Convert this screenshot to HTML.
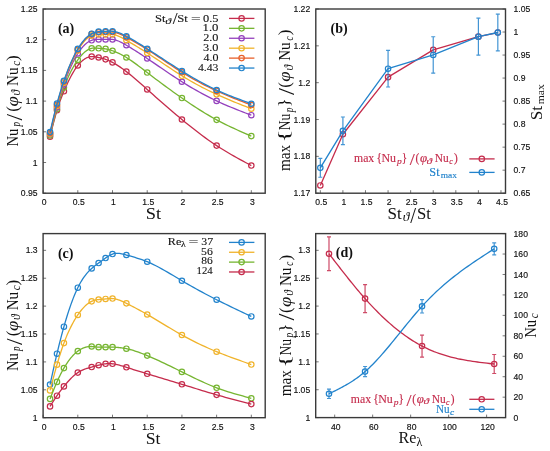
<!DOCTYPE html>
<html><head><meta charset="utf-8"><title>Figure</title><style>
html,body{margin:0;padding:0;background:#fff;}
svg{display:block;}
.box{fill:none;stroke:#3a3a3a;stroke-width:1.4;}
.tk{stroke:#555;stroke-width:0.8;}
.tl{font-family:"Liberation Sans", Arial, sans-serif;font-size:8.6px;fill:#111;stroke:#111;stroke-width:0.15;}
.cv{fill:none;stroke-width:1.3;stroke-linejoin:round;}
.mk{fill:none;stroke-width:1.2;}
.eb{fill:none;stroke-width:1.2;stroke-opacity:0.85;}
.lg{font-family:"Liberation Serif", "DejaVu Serif", serif;font-size:11px;fill:#222;}
.sub{font-size:7.5px;font-style:italic;}
.asub{font-size:11px;font-style:italic;}
.it{font-style:italic;}
.al{font-family:"Liberation Serif", "DejaVu Serif", serif;font-size:16.5px;fill:#222;}
.gt{font-family:"Liberation Serif", "DejaVu Serif", serif;}
.gt text{stroke:inherit;}
.pl{font-family:"Liberation Serif", "DejaVu Serif", serif;font-size:14px;font-weight:bold;fill:#111;}
</style></head>
<body><svg width="550" height="451" viewBox="0 0 550 451">
<rect width="550" height="451" fill="#fff"/>
<line x1="43.10" y1="193.20" x2="43.10" y2="190.20" class="tk"/>
<text x="44.10" y="205.40" class="tl" text-anchor="middle">0</text>
<line x1="77.80" y1="193.20" x2="77.80" y2="190.20" class="tk"/>
<text x="78.80" y="205.40" class="tl" text-anchor="middle">0.5</text>
<line x1="112.51" y1="193.20" x2="112.51" y2="190.20" class="tk"/>
<text x="113.51" y="205.40" class="tl" text-anchor="middle">1</text>
<line x1="147.21" y1="193.20" x2="147.21" y2="190.20" class="tk"/>
<text x="148.21" y="205.40" class="tl" text-anchor="middle">1.5</text>
<line x1="181.91" y1="193.20" x2="181.91" y2="190.20" class="tk"/>
<text x="182.91" y="205.40" class="tl" text-anchor="middle">2</text>
<line x1="216.62" y1="193.20" x2="216.62" y2="190.20" class="tk"/>
<text x="217.62" y="205.40" class="tl" text-anchor="middle">2.5</text>
<line x1="251.32" y1="193.20" x2="251.32" y2="190.20" class="tk"/>
<text x="252.32" y="205.40" class="tl" text-anchor="middle">3</text>
<line x1="43.10" y1="193.20" x2="46.10" y2="193.20" class="tk"/>
<text x="37.60" y="196.25" class="tl" text-anchor="end">0.95</text>
<line x1="43.10" y1="162.50" x2="46.10" y2="162.50" class="tk"/>
<text x="37.60" y="165.55" class="tl" text-anchor="end">1</text>
<line x1="43.10" y1="131.80" x2="46.10" y2="131.80" class="tk"/>
<text x="37.60" y="134.85" class="tl" text-anchor="end">1.05</text>
<line x1="43.10" y1="101.10" x2="46.10" y2="101.10" class="tk"/>
<text x="37.60" y="104.15" class="tl" text-anchor="end">1.1</text>
<line x1="43.10" y1="70.40" x2="46.10" y2="70.40" class="tk"/>
<text x="37.60" y="73.45" class="tl" text-anchor="end">1.15</text>
<line x1="43.10" y1="39.70" x2="46.10" y2="39.70" class="tk"/>
<text x="37.60" y="42.75" class="tl" text-anchor="end">1.2</text>
<line x1="43.10" y1="9.00" x2="46.10" y2="9.00" class="tk"/>
<text x="37.60" y="12.05" class="tl" text-anchor="end">1.25</text>
<rect x="43.10" y="9.00" width="222.10" height="184.20" class="box"/>
<path d="M50.04,136.71 L50.62,134.37 L51.20,132.03 L51.78,129.71 L52.35,127.40 L52.93,125.12 L53.51,122.86 L54.09,120.65 L54.67,118.47 L55.25,116.35 L55.82,114.27 L56.40,112.26 L56.98,110.31 L57.56,108.43 L58.14,106.62 L58.72,104.87 L59.29,103.19 L59.87,101.55 L60.45,99.97 L61.03,98.43 L61.61,96.93 L62.19,95.47 L62.77,94.05 L63.34,92.65 L63.92,91.28 L65.08,88.59 L66.24,85.99 L67.39,83.47 L68.55,81.05 L69.71,78.73 L70.86,76.50 L72.02,74.38 L73.18,72.37 L74.33,70.47 L75.49,68.69 L76.65,67.02 L77.80,65.49 L78.96,64.08 L80.12,62.80 L81.27,61.65 L82.43,60.62 L83.59,59.71 L84.74,58.92 L85.90,58.25 L87.06,57.69 L88.21,57.25 L89.37,56.92 L90.53,56.70 L91.68,56.58 L92.26,56.57 L92.84,56.58 L93.42,56.61 L94.00,56.65 L94.58,56.72 L95.15,56.80 L95.73,56.90 L96.31,57.01 L96.89,57.12 L97.47,57.25 L98.05,57.38 L98.62,57.51 L99.20,57.64 L99.78,57.77 L100.36,57.90 L100.94,58.04 L101.52,58.18 L102.10,58.33 L102.67,58.48 L103.25,58.64 L103.83,58.80 L104.41,58.97 L104.99,59.16 L105.57,59.35 L106.14,59.55 L106.72,59.76 L107.30,59.99 L107.88,60.22 L108.46,60.47 L109.04,60.72 L109.61,60.98 L110.19,61.25 L110.77,61.53 L111.35,61.82 L111.93,62.11 L112.51,62.42 L113.66,63.05 L114.82,63.71 L115.98,64.39 L117.13,65.10 L118.29,65.84 L119.45,66.61 L120.60,67.39 L121.76,68.20 L122.92,69.03 L124.07,69.88 L125.23,70.74 L126.39,71.63 L128.12,72.99 L129.86,74.38 L131.59,75.80 L133.33,77.25 L135.06,78.72 L136.80,80.22 L138.53,81.73 L140.27,83.25 L142.00,84.79 L143.74,86.34 L145.47,87.88 L147.21,89.43 L150.10,92.01 L152.99,94.58 L155.89,97.15 L158.78,99.70 L161.67,102.24 L164.56,104.76 L167.45,107.27 L170.34,109.76 L173.24,112.23 L176.13,114.69 L179.02,117.11 L181.91,119.52 L184.80,121.90 L187.70,124.25 L190.59,126.57 L193.48,128.86 L196.37,131.11 L199.26,133.32 L202.16,135.49 L205.05,137.61 L207.94,139.69 L210.83,141.72 L213.72,143.69 L216.62,145.61 L219.51,147.48 L222.40,149.29 L225.29,151.06 L228.18,152.78 L231.08,154.46 L233.97,156.11 L236.86,157.73 L239.75,159.33 L242.64,160.90 L245.53,162.47 L248.43,164.02 L251.32,165.57" stroke="#C52C4C" class="cv"/>
<circle cx="50.04" cy="136.71" r="2.7" stroke="#C52C4C" class="mk"/>
<circle cx="56.98" cy="110.31" r="2.7" stroke="#C52C4C" class="mk"/>
<circle cx="63.92" cy="91.28" r="2.7" stroke="#C52C4C" class="mk"/>
<circle cx="77.80" cy="65.49" r="2.7" stroke="#C52C4C" class="mk"/>
<circle cx="91.68" cy="56.58" r="2.7" stroke="#C52C4C" class="mk"/>
<circle cx="98.62" cy="57.51" r="2.7" stroke="#C52C4C" class="mk"/>
<circle cx="105.57" cy="59.35" r="2.7" stroke="#C52C4C" class="mk"/>
<circle cx="112.51" cy="62.42" r="2.7" stroke="#C52C4C" class="mk"/>
<circle cx="126.39" cy="71.63" r="2.7" stroke="#C52C4C" class="mk"/>
<circle cx="147.21" cy="89.43" r="2.7" stroke="#C52C4C" class="mk"/>
<circle cx="181.91" cy="119.52" r="2.7" stroke="#C52C4C" class="mk"/>
<circle cx="216.62" cy="145.61" r="2.7" stroke="#C52C4C" class="mk"/>
<circle cx="251.32" cy="165.57" r="2.7" stroke="#C52C4C" class="mk"/>
<path d="M50.04,135.48 L50.62,133.20 L51.20,130.92 L51.78,128.65 L52.35,126.39 L52.93,124.14 L53.51,121.91 L54.09,119.70 L54.67,117.51 L55.25,115.36 L55.82,113.23 L56.40,111.14 L56.98,109.08 L57.56,107.07 L58.14,105.10 L58.72,103.17 L59.29,101.28 L59.87,99.43 L60.45,97.62 L61.03,95.85 L61.61,94.12 L62.19,92.43 L62.77,90.78 L63.34,89.16 L63.92,87.59 L65.08,84.56 L66.24,81.68 L67.39,78.94 L68.55,76.34 L69.71,73.88 L70.86,71.54 L72.02,69.33 L73.18,67.24 L74.33,65.26 L75.49,63.39 L76.65,61.63 L77.80,59.96 L78.96,58.39 L80.12,56.92 L81.27,55.55 L82.43,54.28 L83.59,53.12 L84.74,52.07 L85.90,51.14 L87.06,50.32 L88.21,49.63 L89.37,49.05 L90.53,48.61 L91.68,48.30 L92.26,48.19 L92.84,48.11 L93.42,48.06 L94.00,48.03 L94.58,48.03 L95.15,48.04 L95.73,48.07 L96.31,48.10 L96.89,48.15 L97.47,48.20 L98.05,48.25 L98.62,48.30 L99.20,48.34 L99.78,48.38 L100.36,48.42 L100.94,48.46 L101.52,48.50 L102.10,48.54 L102.67,48.58 L103.25,48.63 L103.83,48.69 L104.41,48.75 L104.99,48.83 L105.57,48.91 L106.14,49.01 L106.72,49.12 L107.30,49.24 L107.88,49.37 L108.46,49.51 L109.04,49.66 L109.61,49.82 L110.19,49.99 L110.77,50.17 L111.35,50.36 L111.93,50.55 L112.51,50.75 L113.66,51.18 L114.82,51.63 L115.98,52.10 L117.13,52.60 L118.29,53.13 L119.45,53.68 L120.60,54.26 L121.76,54.86 L122.92,55.49 L124.07,56.14 L125.23,56.81 L126.39,57.51 L128.12,58.59 L129.86,59.72 L131.59,60.90 L133.33,62.10 L135.06,63.35 L136.80,64.62 L138.53,65.91 L140.27,67.22 L142.00,68.54 L143.74,69.88 L145.47,71.21 L147.21,72.55 L150.10,74.77 L152.99,76.97 L155.89,79.15 L158.78,81.33 L161.67,83.48 L164.56,85.61 L167.45,87.73 L170.34,89.83 L173.24,91.91 L176.13,93.97 L179.02,96.01 L181.91,98.03 L184.80,100.03 L187.70,102.00 L190.59,103.94 L193.48,105.86 L196.37,107.74 L199.26,109.59 L202.16,111.41 L205.05,113.18 L207.94,114.91 L210.83,116.60 L213.72,118.24 L216.62,119.83 L219.51,121.37 L222.40,122.86 L225.29,124.31 L228.18,125.71 L231.08,127.09 L233.97,128.43 L236.86,129.75 L239.75,131.04 L242.64,132.32 L245.53,133.59 L248.43,134.85 L251.32,136.10" stroke="#76B531" class="cv"/>
<circle cx="50.04" cy="135.48" r="2.7" stroke="#76B531" class="mk"/>
<circle cx="56.98" cy="109.08" r="2.7" stroke="#76B531" class="mk"/>
<circle cx="63.92" cy="87.59" r="2.7" stroke="#76B531" class="mk"/>
<circle cx="77.80" cy="59.96" r="2.7" stroke="#76B531" class="mk"/>
<circle cx="91.68" cy="48.30" r="2.7" stroke="#76B531" class="mk"/>
<circle cx="98.62" cy="48.30" r="2.7" stroke="#76B531" class="mk"/>
<circle cx="105.57" cy="48.91" r="2.7" stroke="#76B531" class="mk"/>
<circle cx="112.51" cy="50.75" r="2.7" stroke="#76B531" class="mk"/>
<circle cx="126.39" cy="57.51" r="2.7" stroke="#76B531" class="mk"/>
<circle cx="147.21" cy="72.55" r="2.7" stroke="#76B531" class="mk"/>
<circle cx="181.91" cy="98.03" r="2.7" stroke="#76B531" class="mk"/>
<circle cx="216.62" cy="119.83" r="2.7" stroke="#76B531" class="mk"/>
<circle cx="251.32" cy="136.10" r="2.7" stroke="#76B531" class="mk"/>
<path d="M50.04,134.26 L50.62,131.93 L51.20,129.61 L51.78,127.30 L52.35,124.99 L52.93,122.70 L53.51,120.42 L54.09,118.16 L54.67,115.92 L55.25,113.71 L55.82,111.52 L56.40,109.36 L56.98,107.24 L57.56,105.15 L58.14,103.10 L58.72,101.08 L59.29,99.10 L59.87,97.16 L60.45,95.25 L61.03,93.38 L61.61,91.54 L62.19,89.73 L62.77,87.96 L63.34,86.22 L63.92,84.52 L65.08,81.22 L66.24,78.05 L67.39,75.01 L68.55,72.11 L69.71,69.34 L70.86,66.69 L72.02,64.18 L73.18,61.79 L74.33,59.54 L75.49,57.40 L76.65,55.40 L77.80,53.52 L78.96,51.76 L80.12,50.12 L81.27,48.60 L82.43,47.21 L83.59,45.93 L84.74,44.78 L85.90,43.74 L87.06,42.82 L88.21,42.02 L89.37,41.34 L90.53,40.77 L91.68,40.31 L92.26,40.13 L92.84,39.97 L93.42,39.84 L94.00,39.73 L94.58,39.63 L95.15,39.56 L95.73,39.50 L96.31,39.46 L96.89,39.43 L97.47,39.41 L98.05,39.40 L98.62,39.39 L99.20,39.39 L99.78,39.39 L100.36,39.40 L100.94,39.40 L101.52,39.41 L102.10,39.41 L102.67,39.42 L103.25,39.42 L103.83,39.42 L104.41,39.42 L104.99,39.41 L105.57,39.39 L106.14,39.37 L106.72,39.35 L107.30,39.33 L107.88,39.30 L108.46,39.28 L109.04,39.26 L109.61,39.25 L110.19,39.25 L110.77,39.27 L111.35,39.29 L111.93,39.33 L112.51,39.39 L113.66,39.57 L114.82,39.83 L115.98,40.16 L117.13,40.55 L118.29,41.00 L119.45,41.50 L120.60,42.04 L121.76,42.63 L122.92,43.24 L124.07,43.89 L125.23,44.55 L126.39,45.23 L128.12,46.26 L129.86,47.31 L131.59,48.37 L133.33,49.45 L135.06,50.54 L136.80,51.64 L138.53,52.76 L140.27,53.89 L142.00,55.03 L143.74,56.17 L145.47,57.33 L147.21,58.49 L150.10,60.44 L152.99,62.40 L155.89,64.37 L158.78,66.35 L161.67,68.33 L164.56,70.30 L167.45,72.26 L170.34,74.20 L173.24,76.13 L176.13,78.04 L179.02,79.91 L181.91,81.76 L184.80,83.57 L187.70,85.34 L190.59,87.07 L193.48,88.77 L196.37,90.42 L199.26,92.04 L202.16,93.62 L205.05,95.16 L207.94,96.66 L210.83,98.12 L213.72,99.54 L216.62,100.92 L219.51,102.25 L222.40,103.55 L225.29,104.82 L228.18,106.05 L231.08,107.26 L233.97,108.44 L236.86,109.60 L239.75,110.75 L242.64,111.88 L245.53,113.00 L248.43,114.11 L251.32,115.22" stroke="#9440BD" class="cv"/>
<circle cx="50.04" cy="134.26" r="2.7" stroke="#9440BD" class="mk"/>
<circle cx="56.98" cy="107.24" r="2.7" stroke="#9440BD" class="mk"/>
<circle cx="63.92" cy="84.52" r="2.7" stroke="#9440BD" class="mk"/>
<circle cx="77.80" cy="53.52" r="2.7" stroke="#9440BD" class="mk"/>
<circle cx="91.68" cy="40.31" r="2.7" stroke="#9440BD" class="mk"/>
<circle cx="98.62" cy="39.39" r="2.7" stroke="#9440BD" class="mk"/>
<circle cx="105.57" cy="39.39" r="2.7" stroke="#9440BD" class="mk"/>
<circle cx="112.51" cy="39.39" r="2.7" stroke="#9440BD" class="mk"/>
<circle cx="126.39" cy="45.23" r="2.7" stroke="#9440BD" class="mk"/>
<circle cx="147.21" cy="58.49" r="2.7" stroke="#9440BD" class="mk"/>
<circle cx="181.91" cy="81.76" r="2.7" stroke="#9440BD" class="mk"/>
<circle cx="216.62" cy="100.92" r="2.7" stroke="#9440BD" class="mk"/>
<circle cx="251.32" cy="115.22" r="2.7" stroke="#9440BD" class="mk"/>
<path d="M50.04,133.64 L50.62,131.27 L51.20,128.90 L51.78,126.53 L52.35,124.17 L52.93,121.83 L53.51,119.50 L54.09,117.19 L54.67,114.90 L55.25,112.63 L55.82,110.40 L56.40,108.19 L56.98,106.01 L57.56,103.87 L58.14,101.77 L58.72,99.70 L59.29,97.67 L59.87,95.67 L60.45,93.71 L61.03,91.79 L61.61,89.90 L62.19,88.04 L62.77,86.22 L63.34,84.43 L63.92,82.68 L65.08,79.28 L66.24,76.01 L67.39,72.88 L68.55,69.87 L69.71,67.00 L70.86,64.26 L72.02,61.64 L73.18,59.15 L74.33,56.78 L75.49,54.53 L76.65,52.40 L77.80,50.38 L78.96,48.49 L80.12,46.71 L81.27,45.05 L82.43,43.51 L83.59,42.09 L84.74,40.79 L85.90,39.61 L87.06,38.55 L88.21,37.62 L89.37,36.82 L90.53,36.14 L91.68,35.59 L92.26,35.36 L92.84,35.16 L93.42,34.99 L94.00,34.85 L94.58,34.72 L95.15,34.62 L95.73,34.54 L96.31,34.48 L96.89,34.43 L97.47,34.40 L98.05,34.37 L98.62,34.36 L99.20,34.35 L99.78,34.35 L100.36,34.35 L100.94,34.35 L101.52,34.36 L102.10,34.36 L102.67,34.37 L103.25,34.37 L103.83,34.38 L104.41,34.38 L104.99,34.37 L105.57,34.36 L106.14,34.34 L106.72,34.32 L107.30,34.29 L107.88,34.27 L108.46,34.24 L109.04,34.23 L109.61,34.22 L110.19,34.21 L110.77,34.23 L111.35,34.25 L111.93,34.30 L112.51,34.36 L113.66,34.55 L114.82,34.81 L115.98,35.16 L117.13,35.56 L118.29,36.03 L119.45,36.54 L120.60,37.10 L121.76,37.70 L122.92,38.33 L124.07,38.98 L125.23,39.64 L126.39,40.31 L128.12,41.33 L129.86,42.34 L131.59,43.36 L133.33,44.39 L135.06,45.42 L136.80,46.46 L138.53,47.51 L140.27,48.57 L142.00,49.63 L143.74,50.71 L145.47,51.80 L147.21,52.90 L150.10,54.77 L152.99,56.67 L155.89,58.59 L158.78,60.53 L161.67,62.48 L164.56,64.43 L167.45,66.38 L170.34,68.31 L173.24,70.23 L176.13,72.12 L179.02,73.98 L181.91,75.80 L184.80,77.58 L187.70,79.30 L190.59,80.99 L193.48,82.63 L196.37,84.23 L199.26,85.78 L202.16,87.30 L205.05,88.78 L207.94,90.23 L210.83,91.63 L213.72,93.01 L216.62,94.35 L219.51,95.65 L222.40,96.93 L225.29,98.19 L228.18,99.42 L231.08,100.63 L233.97,101.82 L236.86,102.99 L239.75,104.15 L242.64,105.30 L245.53,106.44 L248.43,107.58 L251.32,108.71" stroke="#F0B32A" class="cv"/>
<circle cx="50.04" cy="133.64" r="2.7" stroke="#F0B32A" class="mk"/>
<circle cx="56.98" cy="106.01" r="2.7" stroke="#F0B32A" class="mk"/>
<circle cx="63.92" cy="82.68" r="2.7" stroke="#F0B32A" class="mk"/>
<circle cx="77.80" cy="50.38" r="2.7" stroke="#F0B32A" class="mk"/>
<circle cx="91.68" cy="35.59" r="2.7" stroke="#F0B32A" class="mk"/>
<circle cx="98.62" cy="34.36" r="2.7" stroke="#F0B32A" class="mk"/>
<circle cx="105.57" cy="34.36" r="2.7" stroke="#F0B32A" class="mk"/>
<circle cx="112.51" cy="34.36" r="2.7" stroke="#F0B32A" class="mk"/>
<circle cx="126.39" cy="40.31" r="2.7" stroke="#F0B32A" class="mk"/>
<circle cx="147.21" cy="52.90" r="2.7" stroke="#F0B32A" class="mk"/>
<circle cx="181.91" cy="75.80" r="2.7" stroke="#F0B32A" class="mk"/>
<circle cx="216.62" cy="94.35" r="2.7" stroke="#F0B32A" class="mk"/>
<circle cx="251.32" cy="108.71" r="2.7" stroke="#F0B32A" class="mk"/>
<path d="M50.04,133.03 L50.62,130.59 L51.20,128.16 L51.78,125.73 L52.35,123.31 L52.93,120.91 L53.51,118.52 L54.09,116.16 L54.67,113.82 L55.25,111.51 L55.82,109.23 L56.40,106.99 L56.98,104.78 L57.56,102.62 L58.14,100.50 L58.72,98.42 L59.29,96.38 L59.87,94.38 L60.45,92.42 L61.03,90.50 L61.61,88.62 L62.19,86.77 L62.77,84.96 L63.34,83.19 L63.92,81.45 L65.08,78.08 L66.24,74.85 L67.39,71.76 L68.55,68.79 L69.71,65.96 L70.86,63.25 L72.02,60.67 L73.18,58.21 L74.33,55.87 L75.49,53.64 L76.65,51.53 L77.80,49.52 L78.96,47.63 L80.12,45.84 L81.27,44.16 L82.43,42.60 L83.59,41.14 L84.74,39.80 L85.90,38.57 L87.06,37.46 L88.21,36.46 L89.37,35.58 L90.53,34.82 L91.68,34.17 L92.26,33.90 L92.84,33.65 L93.42,33.42 L94.00,33.23 L94.58,33.05 L95.15,32.90 L95.73,32.76 L96.31,32.65 L96.89,32.55 L97.47,32.46 L98.05,32.39 L98.62,32.33 L99.20,32.28 L99.78,32.24 L100.36,32.20 L100.94,32.17 L101.52,32.15 L102.10,32.13 L102.67,32.11 L103.25,32.09 L103.83,32.08 L104.41,32.06 L104.99,32.04 L105.57,32.03 L106.14,32.00 L106.72,31.98 L107.30,31.95 L107.88,31.93 L108.46,31.91 L109.04,31.90 L109.61,31.89 L110.19,31.89 L110.77,31.90 L111.35,31.93 L111.93,31.97 L112.51,32.03 L113.66,32.19 L114.82,32.42 L115.98,32.71 L117.13,33.06 L118.29,33.46 L119.45,33.91 L120.60,34.39 L121.76,34.91 L122.92,35.46 L124.07,36.04 L125.23,36.64 L126.39,37.24 L128.12,38.17 L129.86,39.13 L131.59,40.09 L133.33,41.08 L135.06,42.08 L136.80,43.10 L138.53,44.14 L140.27,45.19 L142.00,46.25 L143.74,47.33 L145.47,48.42 L147.21,49.52 L150.10,51.39 L152.99,53.28 L155.89,55.18 L158.78,57.10 L161.67,59.03 L164.56,60.96 L167.45,62.89 L170.34,64.81 L173.24,66.71 L176.13,68.58 L179.02,70.43 L181.91,72.24 L184.80,74.01 L187.70,75.75 L190.59,77.44 L193.48,79.09 L196.37,80.70 L199.26,82.28 L202.16,83.81 L205.05,85.31 L207.94,86.76 L210.83,88.18 L213.72,89.56 L216.62,90.91 L219.51,92.21 L222.40,93.49 L225.29,94.73 L228.18,95.94 L231.08,97.13 L233.97,98.30 L236.86,99.45 L239.75,100.59 L242.64,101.71 L245.53,102.82 L248.43,103.93 L251.32,105.03" stroke="#E8602A" class="cv"/>
<circle cx="50.04" cy="133.03" r="2.7" stroke="#E8602A" class="mk"/>
<circle cx="56.98" cy="104.78" r="2.7" stroke="#E8602A" class="mk"/>
<circle cx="63.92" cy="81.45" r="2.7" stroke="#E8602A" class="mk"/>
<circle cx="77.80" cy="49.52" r="2.7" stroke="#E8602A" class="mk"/>
<circle cx="91.68" cy="34.17" r="2.7" stroke="#E8602A" class="mk"/>
<circle cx="98.62" cy="32.33" r="2.7" stroke="#E8602A" class="mk"/>
<circle cx="105.57" cy="32.03" r="2.7" stroke="#E8602A" class="mk"/>
<circle cx="112.51" cy="32.03" r="2.7" stroke="#E8602A" class="mk"/>
<circle cx="126.39" cy="37.24" r="2.7" stroke="#E8602A" class="mk"/>
<circle cx="147.21" cy="49.52" r="2.7" stroke="#E8602A" class="mk"/>
<circle cx="181.91" cy="72.24" r="2.7" stroke="#E8602A" class="mk"/>
<circle cx="216.62" cy="90.91" r="2.7" stroke="#E8602A" class="mk"/>
<circle cx="251.32" cy="105.03" r="2.7" stroke="#E8602A" class="mk"/>
<path d="M50.04,132.11 L50.62,129.62 L51.20,127.14 L51.78,124.67 L52.35,122.21 L52.93,119.77 L53.51,117.35 L54.09,114.96 L54.67,112.60 L55.25,110.27 L55.82,107.99 L56.40,105.75 L56.98,103.56 L57.56,101.42 L58.14,99.33 L58.72,97.30 L59.29,95.31 L59.87,93.36 L60.45,91.46 L61.03,89.60 L61.61,87.78 L62.19,85.99 L62.77,84.24 L63.34,82.53 L63.92,80.84 L65.08,77.55 L66.24,74.37 L67.39,71.30 L68.55,68.35 L69.71,65.51 L70.86,62.79 L72.02,60.19 L73.18,57.70 L74.33,55.32 L75.49,53.07 L76.65,50.93 L77.80,48.91 L78.96,47.01 L80.12,45.23 L81.27,43.56 L82.43,42.01 L83.59,40.58 L84.74,39.26 L85.90,38.05 L87.06,36.96 L88.21,35.98 L89.37,35.10 L90.53,34.34 L91.68,33.68 L92.26,33.39 L92.84,33.13 L93.42,32.89 L94.00,32.68 L94.58,32.49 L95.15,32.31 L95.73,32.16 L96.31,32.03 L96.89,31.91 L97.47,31.81 L98.05,31.73 L98.62,31.66 L99.20,31.60 L99.78,31.55 L100.36,31.51 L100.94,31.48 L101.52,31.46 L102.10,31.44 L102.67,31.43 L103.25,31.41 L103.83,31.40 L104.41,31.39 L104.99,31.37 L105.57,31.35 L106.14,31.32 L106.72,31.29 L107.30,31.26 L107.88,31.23 L108.46,31.20 L109.04,31.18 L109.61,31.16 L110.19,31.15 L110.77,31.15 L111.35,31.16 L111.93,31.18 L112.51,31.23 L113.66,31.37 L114.82,31.57 L115.98,31.84 L117.13,32.17 L118.29,32.55 L119.45,32.98 L120.60,33.45 L121.76,33.96 L122.92,34.50 L124.07,35.07 L125.23,35.65 L126.39,36.26 L128.12,37.19 L129.86,38.15 L131.59,39.13 L133.33,40.14 L135.06,41.16 L136.80,42.20 L138.53,43.26 L140.27,44.33 L142.00,45.41 L143.74,46.51 L145.47,47.61 L147.21,48.73 L150.10,50.59 L152.99,52.47 L155.89,54.36 L158.78,56.26 L161.67,58.16 L164.56,60.05 L167.45,61.94 L170.34,63.81 L173.24,65.67 L176.13,67.52 L179.02,69.34 L181.91,71.14 L184.80,72.90 L187.70,74.64 L190.59,76.34 L193.48,78.01 L196.37,79.64 L199.26,81.24 L202.16,82.80 L205.05,84.32 L207.94,85.80 L210.83,87.24 L213.72,88.64 L216.62,89.99 L219.51,91.29 L222.40,92.56 L225.29,93.78 L228.18,94.98 L231.08,96.14 L233.97,97.27 L236.86,98.39 L239.75,99.48 L242.64,100.56 L245.53,101.63 L248.43,102.68 L251.32,103.74" stroke="#2283CC" class="cv"/>
<circle cx="50.04" cy="132.11" r="2.7" stroke="#2283CC" class="mk"/>
<circle cx="56.98" cy="103.56" r="2.7" stroke="#2283CC" class="mk"/>
<circle cx="63.92" cy="80.84" r="2.7" stroke="#2283CC" class="mk"/>
<circle cx="77.80" cy="48.91" r="2.7" stroke="#2283CC" class="mk"/>
<circle cx="91.68" cy="33.68" r="2.7" stroke="#2283CC" class="mk"/>
<circle cx="98.62" cy="31.66" r="2.7" stroke="#2283CC" class="mk"/>
<circle cx="105.57" cy="31.35" r="2.7" stroke="#2283CC" class="mk"/>
<circle cx="112.51" cy="31.23" r="2.7" stroke="#2283CC" class="mk"/>
<circle cx="126.39" cy="36.26" r="2.7" stroke="#2283CC" class="mk"/>
<circle cx="147.21" cy="48.73" r="2.7" stroke="#2283CC" class="mk"/>
<circle cx="181.91" cy="71.14" r="2.7" stroke="#2283CC" class="mk"/>
<circle cx="216.62" cy="89.99" r="2.7" stroke="#2283CC" class="mk"/>
<circle cx="251.32" cy="103.74" r="2.7" stroke="#2283CC" class="mk"/>
<line x1="229" y1="18.4" x2="254.4" y2="18.4" stroke="#C52C4C" class="cv"/>
<circle cx="241.6" cy="18.4" r="2.7" stroke="#C52C4C" class="mk"/>
<line x1="229" y1="28.33" x2="254.4" y2="28.33" stroke="#76B531" class="cv"/>
<circle cx="241.6" cy="28.33" r="2.7" stroke="#76B531" class="mk"/>
<line x1="229" y1="38.26" x2="254.4" y2="38.26" stroke="#9440BD" class="cv"/>
<circle cx="241.6" cy="38.26" r="2.7" stroke="#9440BD" class="mk"/>
<line x1="229" y1="48.19" x2="254.4" y2="48.19" stroke="#F0B32A" class="cv"/>
<circle cx="241.6" cy="48.19" r="2.7" stroke="#F0B32A" class="mk"/>
<line x1="229" y1="58.12" x2="254.4" y2="58.12" stroke="#E8602A" class="cv"/>
<circle cx="241.6" cy="58.12" r="2.7" stroke="#E8602A" class="mk"/>
<line x1="229" y1="68.05" x2="254.4" y2="68.05" stroke="#2283CC" class="cv"/>
<circle cx="241.6" cy="68.05" r="2.7" stroke="#2283CC" class="mk"/>
<line x1="43.10" y1="417.70" x2="43.10" y2="414.70" class="tk"/>
<text x="44.10" y="429.80" class="tl" text-anchor="middle">0</text>
<line x1="77.80" y1="417.70" x2="77.80" y2="414.70" class="tk"/>
<text x="78.80" y="429.80" class="tl" text-anchor="middle">0.5</text>
<line x1="112.51" y1="417.70" x2="112.51" y2="414.70" class="tk"/>
<text x="113.51" y="429.80" class="tl" text-anchor="middle">1</text>
<line x1="147.21" y1="417.70" x2="147.21" y2="414.70" class="tk"/>
<text x="148.21" y="429.80" class="tl" text-anchor="middle">1.5</text>
<line x1="181.91" y1="417.70" x2="181.91" y2="414.70" class="tk"/>
<text x="182.91" y="429.80" class="tl" text-anchor="middle">2</text>
<line x1="216.62" y1="417.70" x2="216.62" y2="414.70" class="tk"/>
<text x="217.62" y="429.80" class="tl" text-anchor="middle">2.5</text>
<line x1="251.32" y1="417.70" x2="251.32" y2="414.70" class="tk"/>
<text x="252.32" y="429.80" class="tl" text-anchor="middle">3</text>
<line x1="43.10" y1="417.70" x2="46.10" y2="417.70" class="tk"/>
<text x="37.60" y="420.75" class="tl" text-anchor="end">1</text>
<line x1="43.10" y1="389.81" x2="46.10" y2="389.81" class="tk"/>
<text x="37.60" y="392.86" class="tl" text-anchor="end">1.05</text>
<line x1="43.10" y1="361.91" x2="46.10" y2="361.91" class="tk"/>
<text x="37.60" y="364.96" class="tl" text-anchor="end">1.1</text>
<line x1="43.10" y1="334.02" x2="46.10" y2="334.02" class="tk"/>
<text x="37.60" y="337.07" class="tl" text-anchor="end">1.15</text>
<line x1="43.10" y1="306.12" x2="46.10" y2="306.12" class="tk"/>
<text x="37.60" y="309.17" class="tl" text-anchor="end">1.2</text>
<line x1="43.10" y1="278.23" x2="46.10" y2="278.23" class="tk"/>
<text x="37.60" y="281.28" class="tl" text-anchor="end">1.25</text>
<line x1="43.10" y1="250.34" x2="46.10" y2="250.34" class="tk"/>
<text x="37.60" y="253.39" class="tl" text-anchor="end">1.3</text>
<rect x="43.10" y="233.60" width="222.10" height="184.10" class="box"/>
<path d="M50.04,384.62 L50.62,381.98 L51.20,379.34 L51.78,376.71 L52.35,374.09 L52.93,371.47 L53.51,368.87 L54.09,366.29 L54.67,363.73 L55.25,361.18 L55.82,358.67 L56.40,356.17 L56.98,353.71 L57.56,351.28 L58.14,348.88 L58.72,346.52 L59.29,344.18 L59.87,341.88 L60.45,339.62 L61.03,337.38 L61.61,335.18 L62.19,333.01 L62.77,330.88 L63.34,328.78 L63.92,326.71 L65.08,322.68 L66.24,318.78 L67.39,315.03 L68.55,311.41 L69.71,307.94 L70.86,304.61 L72.02,301.42 L73.18,298.38 L74.33,295.49 L75.49,292.75 L76.65,290.15 L77.80,287.71 L78.96,285.43 L80.12,283.29 L81.27,281.29 L82.43,279.42 L83.59,277.68 L84.74,276.05 L85.90,274.54 L87.06,273.14 L88.21,271.83 L89.37,270.61 L90.53,269.47 L91.68,268.41 L92.26,267.91 L92.84,267.42 L93.42,266.95 L94.00,266.49 L94.58,266.04 L95.15,265.59 L95.73,265.16 L96.31,264.73 L96.89,264.31 L97.47,263.89 L98.05,263.47 L98.62,263.06 L99.20,262.64 L99.78,262.21 L100.36,261.79 L100.94,261.37 L101.52,260.95 L102.10,260.53 L102.67,260.11 L103.25,259.69 L103.83,259.27 L104.41,258.85 L104.99,258.44 L105.57,258.04 L106.14,257.63 L106.72,257.23 L107.30,256.84 L107.88,256.47 L108.46,256.10 L109.04,255.75 L109.61,255.41 L110.19,255.10 L110.77,254.80 L111.35,254.53 L111.93,254.29 L112.51,254.07 L113.66,253.73 L114.82,253.50 L115.98,253.36 L117.13,253.32 L118.29,253.36 L119.45,253.46 L120.60,253.63 L121.76,253.85 L122.92,254.11 L124.07,254.40 L125.23,254.70 L126.39,255.02 L128.12,255.50 L129.86,255.99 L131.59,256.48 L133.33,256.97 L135.06,257.49 L136.80,258.02 L138.53,258.56 L140.27,259.14 L142.00,259.73 L143.74,260.36 L145.47,261.02 L147.21,261.72 L150.10,262.96 L152.99,264.31 L155.89,265.74 L158.78,267.25 L161.67,268.82 L164.56,270.45 L167.45,272.12 L170.34,273.83 L173.24,275.55 L176.13,277.29 L179.02,279.02 L181.91,280.74 L184.80,282.44 L187.70,284.11 L190.59,285.77 L193.48,287.40 L196.37,289.01 L199.26,290.59 L202.16,292.16 L205.05,293.71 L207.94,295.24 L210.83,296.75 L213.72,298.24 L216.62,299.71 L219.51,301.16 L222.40,302.60 L225.29,304.03 L228.18,305.44 L231.08,306.84 L233.97,308.23 L236.86,309.61 L239.75,310.99 L242.64,312.36 L245.53,313.72 L248.43,315.08 L251.32,316.45" stroke="#2283CC" class="cv"/>
<circle cx="50.04" cy="384.62" r="2.7" stroke="#2283CC" class="mk"/>
<circle cx="56.98" cy="353.71" r="2.7" stroke="#2283CC" class="mk"/>
<circle cx="63.92" cy="326.71" r="2.7" stroke="#2283CC" class="mk"/>
<circle cx="77.80" cy="287.71" r="2.7" stroke="#2283CC" class="mk"/>
<circle cx="91.68" cy="268.41" r="2.7" stroke="#2283CC" class="mk"/>
<circle cx="98.62" cy="263.06" r="2.7" stroke="#2283CC" class="mk"/>
<circle cx="105.57" cy="258.04" r="2.7" stroke="#2283CC" class="mk"/>
<circle cx="112.51" cy="254.07" r="2.7" stroke="#2283CC" class="mk"/>
<circle cx="126.39" cy="255.02" r="2.7" stroke="#2283CC" class="mk"/>
<circle cx="147.21" cy="261.72" r="2.7" stroke="#2283CC" class="mk"/>
<circle cx="181.91" cy="280.74" r="2.7" stroke="#2283CC" class="mk"/>
<circle cx="216.62" cy="299.71" r="2.7" stroke="#2283CC" class="mk"/>
<circle cx="251.32" cy="316.45" r="2.7" stroke="#2283CC" class="mk"/>
<path d="M50.04,390.42 L50.62,388.20 L51.20,385.99 L51.78,383.78 L52.35,381.58 L52.93,379.40 L53.51,377.22 L54.09,375.07 L54.67,372.93 L55.25,370.82 L55.82,368.73 L56.40,366.67 L56.98,364.65 L57.56,362.65 L58.14,360.70 L58.72,358.77 L59.29,356.89 L59.87,355.03 L60.45,353.22 L61.03,351.44 L61.61,349.70 L62.19,348.00 L62.77,346.33 L63.34,344.70 L63.92,343.11 L65.08,340.05 L66.24,337.13 L67.39,334.36 L68.55,331.73 L69.71,329.23 L70.86,326.85 L72.02,324.60 L73.18,322.46 L74.33,320.43 L75.49,318.50 L76.65,316.68 L77.80,314.94 L78.96,313.29 L80.12,311.73 L81.27,310.26 L82.43,308.88 L83.59,307.59 L84.74,306.40 L85.90,305.30 L87.06,304.31 L88.21,303.41 L89.37,302.61 L90.53,301.92 L91.68,301.33 L92.26,301.07 L92.84,300.84 L93.42,300.63 L94.00,300.45 L94.58,300.28 L95.15,300.14 L95.73,300.00 L96.31,299.89 L96.89,299.79 L97.47,299.69 L98.05,299.61 L98.62,299.54 L99.20,299.48 L99.78,299.42 L100.36,299.36 L100.94,299.31 L101.52,299.26 L102.10,299.21 L102.67,299.17 L103.25,299.12 L103.83,299.08 L104.41,299.03 L104.99,298.98 L105.57,298.93 L106.14,298.87 L106.72,298.81 L107.30,298.75 L107.88,298.70 L108.46,298.64 L109.04,298.59 L109.61,298.55 L110.19,298.52 L110.77,298.50 L111.35,298.50 L111.93,298.51 L112.51,298.54 L113.66,298.65 L114.82,298.84 L115.98,299.09 L117.13,299.40 L118.29,299.77 L119.45,300.18 L120.60,300.64 L121.76,301.13 L122.92,301.66 L124.07,302.20 L125.23,302.76 L126.39,303.33 L128.12,304.20 L129.86,305.08 L131.59,305.98 L133.33,306.88 L135.06,307.79 L136.80,308.71 L138.53,309.65 L140.27,310.59 L142.00,311.55 L143.74,312.52 L145.47,313.50 L147.21,314.49 L150.10,316.17 L152.99,317.87 L155.89,319.60 L158.78,321.34 L161.67,323.08 L164.56,324.83 L167.45,326.58 L170.34,328.31 L173.24,330.03 L176.13,331.72 L179.02,333.39 L181.91,335.02 L184.80,336.61 L187.70,338.17 L190.59,339.68 L193.48,341.16 L196.37,342.60 L199.26,344.00 L202.16,345.37 L205.05,346.70 L207.94,348.00 L210.83,349.26 L213.72,350.50 L216.62,351.70 L219.51,352.88 L222.40,354.02 L225.29,355.15 L228.18,356.25 L231.08,357.33 L233.97,358.39 L236.86,359.44 L239.75,360.47 L242.64,361.49 L245.53,362.51 L248.43,363.52 L251.32,364.53" stroke="#F0B32A" class="cv"/>
<circle cx="50.04" cy="390.42" r="2.7" stroke="#F0B32A" class="mk"/>
<circle cx="56.98" cy="364.65" r="2.7" stroke="#F0B32A" class="mk"/>
<circle cx="63.92" cy="343.11" r="2.7" stroke="#F0B32A" class="mk"/>
<circle cx="77.80" cy="314.94" r="2.7" stroke="#F0B32A" class="mk"/>
<circle cx="91.68" cy="301.33" r="2.7" stroke="#F0B32A" class="mk"/>
<circle cx="98.62" cy="299.54" r="2.7" stroke="#F0B32A" class="mk"/>
<circle cx="105.57" cy="298.93" r="2.7" stroke="#F0B32A" class="mk"/>
<circle cx="112.51" cy="298.54" r="2.7" stroke="#F0B32A" class="mk"/>
<circle cx="126.39" cy="303.33" r="2.7" stroke="#F0B32A" class="mk"/>
<circle cx="147.21" cy="314.49" r="2.7" stroke="#F0B32A" class="mk"/>
<circle cx="181.91" cy="335.02" r="2.7" stroke="#F0B32A" class="mk"/>
<circle cx="216.62" cy="351.70" r="2.7" stroke="#F0B32A" class="mk"/>
<circle cx="251.32" cy="364.53" r="2.7" stroke="#F0B32A" class="mk"/>
<path d="M50.04,398.90 L50.62,397.43 L51.20,395.96 L51.78,394.49 L52.35,393.03 L52.93,391.58 L53.51,390.14 L54.09,388.72 L54.67,387.31 L55.25,385.92 L55.82,384.55 L56.40,383.21 L56.98,381.88 L57.56,380.59 L58.14,379.32 L58.72,378.08 L59.29,376.87 L59.87,375.68 L60.45,374.52 L61.03,373.39 L61.61,372.28 L62.19,371.20 L62.77,370.14 L63.34,369.11 L63.92,368.10 L65.08,366.17 L66.24,364.33 L67.39,362.58 L68.55,360.94 L69.71,359.39 L70.86,357.93 L72.02,356.57 L73.18,355.30 L74.33,354.13 L75.49,353.04 L76.65,352.05 L77.80,351.15 L78.96,350.33 L80.12,349.60 L81.27,348.96 L82.43,348.39 L83.59,347.91 L84.74,347.50 L85.90,347.17 L87.06,346.90 L88.21,346.71 L89.37,346.58 L90.53,346.52 L91.68,346.51 L92.26,346.54 L92.84,346.57 L93.42,346.61 L94.00,346.66 L94.58,346.72 L95.15,346.78 L95.73,346.85 L96.31,346.91 L96.89,346.98 L97.47,347.03 L98.05,347.08 L98.62,347.13 L99.20,347.16 L99.78,347.19 L100.36,347.20 L100.94,347.21 L101.52,347.21 L102.10,347.21 L102.67,347.20 L103.25,347.19 L103.83,347.17 L104.41,347.16 L104.99,347.14 L105.57,347.13 L106.14,347.12 L106.72,347.10 L107.30,347.10 L107.88,347.09 L108.46,347.08 L109.04,347.08 L109.61,347.08 L110.19,347.09 L110.77,347.09 L111.35,347.10 L111.93,347.11 L112.51,347.13 L113.66,347.17 L114.82,347.22 L115.98,347.29 L117.13,347.38 L118.29,347.48 L119.45,347.60 L120.60,347.73 L121.76,347.89 L122.92,348.06 L124.07,348.25 L125.23,348.46 L126.39,348.69 L128.12,349.07 L129.86,349.50 L131.59,349.97 L133.33,350.48 L135.06,351.03 L136.80,351.60 L138.53,352.21 L140.27,352.85 L142.00,353.51 L143.74,354.19 L145.47,354.89 L147.21,355.61 L150.10,356.83 L152.99,358.09 L155.89,359.38 L158.78,360.70 L161.67,362.05 L164.56,363.41 L167.45,364.80 L170.34,366.20 L173.24,367.61 L176.13,369.03 L179.02,370.46 L181.91,371.90 L184.80,373.33 L187.70,374.76 L190.59,376.19 L193.48,377.59 L196.37,378.98 L199.26,380.35 L202.16,381.69 L205.05,383.00 L207.94,384.26 L210.83,385.49 L213.72,386.67 L216.62,387.80 L219.51,388.87 L222.40,389.89 L225.29,390.87 L228.18,391.80 L231.08,392.69 L233.97,393.55 L236.86,394.38 L239.75,395.19 L242.64,395.98 L245.53,396.76 L248.43,397.52 L251.32,398.29" stroke="#76B531" class="cv"/>
<circle cx="50.04" cy="398.90" r="2.7" stroke="#76B531" class="mk"/>
<circle cx="56.98" cy="381.88" r="2.7" stroke="#76B531" class="mk"/>
<circle cx="63.92" cy="368.10" r="2.7" stroke="#76B531" class="mk"/>
<circle cx="77.80" cy="351.15" r="2.7" stroke="#76B531" class="mk"/>
<circle cx="91.68" cy="346.51" r="2.7" stroke="#76B531" class="mk"/>
<circle cx="98.62" cy="347.13" r="2.7" stroke="#76B531" class="mk"/>
<circle cx="105.57" cy="347.13" r="2.7" stroke="#76B531" class="mk"/>
<circle cx="112.51" cy="347.13" r="2.7" stroke="#76B531" class="mk"/>
<circle cx="126.39" cy="348.69" r="2.7" stroke="#76B531" class="mk"/>
<circle cx="147.21" cy="355.61" r="2.7" stroke="#76B531" class="mk"/>
<circle cx="181.91" cy="371.90" r="2.7" stroke="#76B531" class="mk"/>
<circle cx="216.62" cy="387.80" r="2.7" stroke="#76B531" class="mk"/>
<circle cx="251.32" cy="398.29" r="2.7" stroke="#76B531" class="mk"/>
<path d="M50.04,406.38 L50.62,405.46 L51.20,404.55 L51.78,403.64 L52.35,402.74 L52.93,401.84 L53.51,400.94 L54.09,400.05 L54.67,399.17 L55.25,398.29 L55.82,397.42 L56.40,396.57 L56.98,395.72 L57.56,394.88 L58.14,394.06 L58.72,393.25 L59.29,392.45 L59.87,391.66 L60.45,390.88 L61.03,390.11 L61.61,389.35 L62.19,388.60 L62.77,387.86 L63.34,387.13 L63.92,386.40 L65.08,384.98 L66.24,383.60 L67.39,382.26 L68.55,380.96 L69.71,379.71 L70.86,378.51 L72.02,377.37 L73.18,376.29 L74.33,375.27 L75.49,374.32 L76.65,373.43 L77.80,372.62 L78.96,371.89 L80.12,371.22 L81.27,370.62 L82.43,370.08 L83.59,369.59 L84.74,369.15 L85.90,368.74 L87.06,368.36 L88.21,368.01 L89.37,367.68 L90.53,367.36 L91.68,367.04 L92.26,366.89 L92.84,366.73 L93.42,366.58 L94.00,366.42 L94.58,366.26 L95.15,366.11 L95.73,365.96 L96.31,365.80 L96.89,365.65 L97.47,365.50 L98.05,365.35 L98.62,365.20 L99.20,365.06 L99.78,364.92 L100.36,364.78 L100.94,364.64 L101.52,364.51 L102.10,364.39 L102.67,364.27 L103.25,364.16 L103.83,364.06 L104.41,363.96 L104.99,363.88 L105.57,363.81 L106.14,363.75 L106.72,363.70 L107.30,363.66 L107.88,363.63 L108.46,363.62 L109.04,363.61 L109.61,363.62 L110.19,363.63 L110.77,363.66 L111.35,363.70 L111.93,363.75 L112.51,363.81 L113.66,363.96 L114.82,364.15 L115.98,364.37 L117.13,364.62 L118.29,364.90 L119.45,365.20 L120.60,365.53 L121.76,365.87 L122.92,366.22 L124.07,366.58 L125.23,366.95 L126.39,367.32 L128.12,367.88 L129.86,368.43 L131.59,368.98 L133.33,369.52 L135.06,370.06 L136.80,370.60 L138.53,371.14 L140.27,371.67 L142.00,372.21 L143.74,372.74 L145.47,373.27 L147.21,373.79 L150.10,374.67 L152.99,375.55 L155.89,376.42 L158.78,377.29 L161.67,378.16 L164.56,379.03 L167.45,379.90 L170.34,380.77 L173.24,381.64 L176.13,382.52 L179.02,383.40 L181.91,384.28 L184.80,385.17 L187.70,386.07 L190.59,386.96 L193.48,387.86 L196.37,388.75 L199.26,389.64 L202.16,390.53 L205.05,391.41 L207.94,392.28 L210.83,393.14 L213.72,393.99 L216.62,394.83 L219.51,395.65 L222.40,396.46 L225.29,397.26 L228.18,398.04 L231.08,398.82 L233.97,399.59 L236.86,400.35 L239.75,401.11 L242.64,401.86 L245.53,402.60 L248.43,403.35 L251.32,404.09" stroke="#C52C4C" class="cv"/>
<circle cx="50.04" cy="406.38" r="2.7" stroke="#C52C4C" class="mk"/>
<circle cx="56.98" cy="395.72" r="2.7" stroke="#C52C4C" class="mk"/>
<circle cx="63.92" cy="386.40" r="2.7" stroke="#C52C4C" class="mk"/>
<circle cx="77.80" cy="372.62" r="2.7" stroke="#C52C4C" class="mk"/>
<circle cx="91.68" cy="367.04" r="2.7" stroke="#C52C4C" class="mk"/>
<circle cx="98.62" cy="365.20" r="2.7" stroke="#C52C4C" class="mk"/>
<circle cx="105.57" cy="363.81" r="2.7" stroke="#C52C4C" class="mk"/>
<circle cx="112.51" cy="363.81" r="2.7" stroke="#C52C4C" class="mk"/>
<circle cx="126.39" cy="367.32" r="2.7" stroke="#C52C4C" class="mk"/>
<circle cx="147.21" cy="373.79" r="2.7" stroke="#C52C4C" class="mk"/>
<circle cx="181.91" cy="384.28" r="2.7" stroke="#C52C4C" class="mk"/>
<circle cx="216.62" cy="394.83" r="2.7" stroke="#C52C4C" class="mk"/>
<circle cx="251.32" cy="404.09" r="2.7" stroke="#C52C4C" class="mk"/>
<line x1="229" y1="242.4" x2="254.4" y2="242.4" stroke="#2283CC" class="cv"/>
<circle cx="241.6" cy="242.4" r="2.7" stroke="#2283CC" class="mk"/>
<line x1="229" y1="252.26" x2="254.4" y2="252.26" stroke="#F0B32A" class="cv"/>
<circle cx="241.6" cy="252.26" r="2.7" stroke="#F0B32A" class="mk"/>
<line x1="229" y1="262.12" x2="254.4" y2="262.12" stroke="#76B531" class="cv"/>
<circle cx="241.6" cy="262.12" r="2.7" stroke="#76B531" class="mk"/>
<line x1="229" y1="271.98" x2="254.4" y2="271.98" stroke="#C52C4C" class="cv"/>
<circle cx="241.6" cy="271.98" r="2.7" stroke="#C52C4C" class="mk"/>
<line x1="320.32" y1="193.20" x2="320.32" y2="190.20" class="tk"/>
<text x="321.32" y="205.40" class="tl" text-anchor="middle">0.5</text>
<line x1="342.90" y1="193.20" x2="342.90" y2="190.20" class="tk"/>
<text x="343.90" y="205.40" class="tl" text-anchor="middle">1</text>
<line x1="365.48" y1="193.20" x2="365.48" y2="190.20" class="tk"/>
<text x="366.48" y="205.40" class="tl" text-anchor="middle">1.5</text>
<line x1="388.07" y1="193.20" x2="388.07" y2="190.20" class="tk"/>
<text x="389.07" y="205.40" class="tl" text-anchor="middle">2</text>
<line x1="410.65" y1="193.20" x2="410.65" y2="190.20" class="tk"/>
<text x="411.65" y="205.40" class="tl" text-anchor="middle">2.5</text>
<line x1="433.23" y1="193.20" x2="433.23" y2="190.20" class="tk"/>
<text x="434.23" y="205.40" class="tl" text-anchor="middle">3</text>
<line x1="455.82" y1="193.20" x2="455.82" y2="190.20" class="tk"/>
<text x="456.82" y="205.40" class="tl" text-anchor="middle">3.5</text>
<line x1="478.40" y1="193.20" x2="478.40" y2="190.20" class="tk"/>
<text x="479.40" y="205.40" class="tl" text-anchor="middle">4</text>
<line x1="500.98" y1="193.20" x2="500.98" y2="190.20" class="tk"/>
<text x="501.98" y="205.40" class="tl" text-anchor="middle">4.5</text>
<line x1="315.80" y1="193.20" x2="318.80" y2="193.20" class="tk"/>
<text x="310.20" y="196.25" class="tl" text-anchor="end">1.17</text>
<line x1="315.80" y1="156.36" x2="318.80" y2="156.36" class="tk"/>
<text x="310.20" y="159.41" class="tl" text-anchor="end">1.18</text>
<line x1="315.80" y1="119.52" x2="318.80" y2="119.52" class="tk"/>
<text x="310.20" y="122.57" class="tl" text-anchor="end">1.19</text>
<line x1="315.80" y1="82.68" x2="318.80" y2="82.68" class="tk"/>
<text x="310.20" y="85.73" class="tl" text-anchor="end">1.2</text>
<line x1="315.80" y1="45.84" x2="318.80" y2="45.84" class="tk"/>
<text x="310.20" y="48.89" class="tl" text-anchor="end">1.21</text>
<line x1="315.80" y1="9.00" x2="318.80" y2="9.00" class="tk"/>
<text x="310.20" y="12.05" class="tl" text-anchor="end">1.22</text>
<line x1="505.50" y1="193.20" x2="502.50" y2="193.20" class="tk"/>
<text x="513.60" y="196.25" class="tl">0.65</text>
<line x1="505.50" y1="170.17" x2="502.50" y2="170.17" class="tk"/>
<text x="513.60" y="173.22" class="tl">0.7</text>
<line x1="505.50" y1="147.15" x2="502.50" y2="147.15" class="tk"/>
<text x="513.60" y="150.20" class="tl">0.75</text>
<line x1="505.50" y1="124.12" x2="502.50" y2="124.12" class="tk"/>
<text x="513.60" y="127.17" class="tl">0.8</text>
<line x1="505.50" y1="101.10" x2="502.50" y2="101.10" class="tk"/>
<text x="513.60" y="104.15" class="tl">0.85</text>
<line x1="505.50" y1="78.07" x2="502.50" y2="78.07" class="tk"/>
<text x="513.60" y="81.12" class="tl">0.9</text>
<line x1="505.50" y1="55.05" x2="502.50" y2="55.05" class="tk"/>
<text x="513.60" y="58.10" class="tl">0.95</text>
<line x1="505.50" y1="32.02" x2="502.50" y2="32.02" class="tk"/>
<text x="513.60" y="35.07" class="tl">1</text>
<line x1="505.50" y1="9.00" x2="502.50" y2="9.00" class="tk"/>
<text x="513.60" y="12.05" class="tl">1.05</text>
<rect x="315.80" y="9.00" width="189.70" height="184.20" class="box"/>
<path d="M320.32,185.46 L342.90,134.26 L388.07,77.15 L433.23,49.89 L478.40,36.63 L497.82,32.58" stroke="#C52C4C" class="cv"/>
<circle cx="320.32" cy="185.46" r="2.7" stroke="#C52C4C" class="mk"/>
<circle cx="342.90" cy="134.26" r="2.7" stroke="#C52C4C" class="mk"/>
<circle cx="388.07" cy="77.15" r="2.7" stroke="#C52C4C" class="mk"/>
<circle cx="433.23" cy="49.89" r="2.7" stroke="#C52C4C" class="mk"/>
<circle cx="478.40" cy="36.63" r="2.7" stroke="#C52C4C" class="mk"/>
<circle cx="497.82" cy="32.58" r="2.7" stroke="#C52C4C" class="mk"/>
<path d="M320.32,158.47 V177.27 M318.32,158.47 H322.32 M318.32,177.27 H322.32" stroke="#2283CC" class="eb"/>
<path d="M342.90,117.00 V144.60 M340.90,117.00 H344.90 M340.90,144.60 H344.90" stroke="#2283CC" class="eb"/>
<path d="M388.07,50.38 V86.98 M386.07,50.38 H390.07 M386.07,86.98 H390.07" stroke="#2283CC" class="eb"/>
<path d="M433.23,36.76 V73.16 M431.23,36.76 H435.23 M431.23,73.16 H435.23" stroke="#2283CC" class="eb"/>
<path d="M478.40,18.22 V55.22 M476.40,18.22 H480.40 M476.40,55.22 H480.40" stroke="#2283CC" class="eb"/>
<path d="M497.82,14.09 V50.89 M495.82,14.09 H499.82 M495.82,50.89 H499.82" stroke="#2283CC" class="eb"/>
<path d="M320.32,167.87 L342.90,130.80 L388.07,68.68 L433.23,54.96 L478.40,36.72 L497.82,32.49" stroke="#2283CC" class="cv"/>
<circle cx="320.32" cy="167.87" r="2.7" stroke="#2283CC" class="mk"/>
<circle cx="342.90" cy="130.80" r="2.7" stroke="#2283CC" class="mk"/>
<circle cx="388.07" cy="68.68" r="2.7" stroke="#2283CC" class="mk"/>
<circle cx="433.23" cy="54.96" r="2.7" stroke="#2283CC" class="mk"/>
<circle cx="478.40" cy="36.72" r="2.7" stroke="#2283CC" class="mk"/>
<circle cx="497.82" cy="32.49" r="2.7" stroke="#2283CC" class="mk"/>
<line x1="469.3" y1="158.9" x2="494.6" y2="158.9" stroke="#C52C4C" class="cv"/>
<circle cx="481.8" cy="158.9" r="2.7" stroke="#C52C4C" class="mk"/>
<line x1="469.3" y1="172.4" x2="494.6" y2="172.4" stroke="#2283CC" class="cv"/>
<circle cx="481.8" cy="172.4" r="2.7" stroke="#2283CC" class="mk"/>
<line x1="334.69" y1="417.60" x2="334.69" y2="414.60" class="tk"/>
<text x="335.69" y="429.80" class="tl" text-anchor="middle">40</text>
<line x1="372.67" y1="417.60" x2="372.67" y2="414.60" class="tk"/>
<text x="373.67" y="429.80" class="tl" text-anchor="middle">60</text>
<line x1="410.65" y1="417.60" x2="410.65" y2="414.60" class="tk"/>
<text x="411.65" y="429.80" class="tl" text-anchor="middle">80</text>
<line x1="448.63" y1="417.60" x2="448.63" y2="414.60" class="tk"/>
<text x="449.63" y="429.80" class="tl" text-anchor="middle">100</text>
<line x1="486.61" y1="417.60" x2="486.61" y2="414.60" class="tk"/>
<text x="487.61" y="429.80" class="tl" text-anchor="middle">120</text>
<line x1="315.70" y1="417.60" x2="318.70" y2="417.60" class="tk"/>
<text x="310.20" y="420.65" class="tl" text-anchor="end">1</text>
<line x1="315.70" y1="389.72" x2="318.70" y2="389.72" class="tk"/>
<text x="310.20" y="392.77" class="tl" text-anchor="end">1.05</text>
<line x1="315.70" y1="361.84" x2="318.70" y2="361.84" class="tk"/>
<text x="310.20" y="364.89" class="tl" text-anchor="end">1.1</text>
<line x1="315.70" y1="333.96" x2="318.70" y2="333.96" class="tk"/>
<text x="310.20" y="337.01" class="tl" text-anchor="end">1.15</text>
<line x1="315.70" y1="306.08" x2="318.70" y2="306.08" class="tk"/>
<text x="310.20" y="309.13" class="tl" text-anchor="end">1.2</text>
<line x1="315.70" y1="278.21" x2="318.70" y2="278.21" class="tk"/>
<text x="310.20" y="281.26" class="tl" text-anchor="end">1.25</text>
<line x1="315.70" y1="250.33" x2="318.70" y2="250.33" class="tk"/>
<text x="310.20" y="253.38" class="tl" text-anchor="end">1.3</text>
<line x1="505.60" y1="417.60" x2="502.60" y2="417.60" class="tk"/>
<text x="513.60" y="420.65" class="tl">0</text>
<line x1="505.60" y1="397.16" x2="502.60" y2="397.16" class="tk"/>
<text x="513.60" y="400.21" class="tl">20</text>
<line x1="505.60" y1="376.71" x2="502.60" y2="376.71" class="tk"/>
<text x="513.60" y="379.76" class="tl">40</text>
<line x1="505.60" y1="356.27" x2="502.60" y2="356.27" class="tk"/>
<text x="513.60" y="359.32" class="tl">60</text>
<line x1="505.60" y1="335.82" x2="502.60" y2="335.82" class="tk"/>
<text x="513.60" y="338.87" class="tl">80</text>
<line x1="505.60" y1="315.38" x2="502.60" y2="315.38" class="tk"/>
<text x="513.60" y="318.43" class="tl">100</text>
<line x1="505.60" y1="294.93" x2="502.60" y2="294.93" class="tk"/>
<text x="513.60" y="297.98" class="tl">120</text>
<line x1="505.60" y1="274.49" x2="502.60" y2="274.49" class="tk"/>
<text x="513.60" y="277.54" class="tl">140</text>
<line x1="505.60" y1="254.04" x2="502.60" y2="254.04" class="tk"/>
<text x="513.60" y="257.09" class="tl">160</text>
<line x1="505.60" y1="233.60" x2="502.60" y2="233.60" class="tk"/>
<text x="513.60" y="236.65" class="tl">180</text>
<rect x="315.70" y="233.60" width="189.90" height="184.00" class="box"/>
<path d="M328.99,236.83 V270.63 M326.99,236.83 H330.99 M326.99,270.63 H330.99" stroke="#C52C4C" class="eb"/>
<path d="M365.07,284.61 V312.61 M363.07,284.61 H367.07 M363.07,312.61 H367.07" stroke="#C52C4C" class="eb"/>
<path d="M422.04,335.06 V357.06 M420.04,335.06 H424.04 M420.04,357.06 H424.04" stroke="#C52C4C" class="eb"/>
<path d="M494.21,354.52 V373.52 M492.21,354.52 H496.21 M492.21,373.52 H496.21" stroke="#C52C4C" class="eb"/>
<path d="M328.99,389.08 V398.48 M326.99,389.08 H330.99 M326.99,398.48 H330.99" stroke="#2283CC" class="eb"/>
<path d="M365.07,366.50 V376.70 M363.07,366.50 H367.07 M363.07,376.70 H367.07" stroke="#2283CC" class="eb"/>
<path d="M422.04,299.58 V312.98 M420.04,299.58 H424.04 M420.04,312.98 H424.04" stroke="#2283CC" class="eb"/>
<path d="M494.21,242.83 V254.83 M492.21,242.83 H496.21 M492.21,254.83 H496.21" stroke="#2283CC" class="eb"/>
<path d="M328.99,253.73 L330.20,255.30 L331.40,256.86 L332.60,258.43 L333.80,259.99 L335.01,261.55 L336.21,263.11 L337.41,264.67 L338.61,266.22 L339.82,267.77 L341.02,269.32 L342.22,270.86 L343.43,272.39 L344.63,273.92 L345.83,275.45 L347.03,276.96 L348.24,278.48 L349.44,279.98 L350.64,281.47 L351.84,282.96 L353.05,284.44 L354.25,285.90 L355.45,287.36 L356.66,288.81 L357.86,290.25 L359.06,291.67 L360.26,293.09 L361.47,294.49 L362.67,295.88 L363.87,297.25 L365.07,298.61 L366.97,300.74 L368.87,302.82 L370.77,304.87 L372.67,306.89 L374.57,308.87 L376.47,310.81 L378.37,312.72 L380.27,314.59 L382.16,316.42 L384.06,318.21 L385.96,319.97 L387.86,321.70 L389.76,323.38 L391.66,325.03 L393.56,326.63 L395.46,328.20 L397.36,329.74 L399.26,331.23 L401.15,332.68 L403.05,334.10 L404.95,335.47 L406.85,336.81 L408.75,338.11 L410.65,339.37 L412.55,340.58 L414.45,341.76 L416.35,342.90 L418.25,343.99 L420.14,345.05 L422.04,346.06 L424.45,347.29 L426.85,348.45 L429.26,349.55 L431.67,350.59 L434.07,351.58 L436.48,352.51 L438.88,353.38 L441.29,354.21 L443.69,354.99 L446.10,355.72 L448.50,356.40 L450.91,357.05 L453.31,357.65 L455.72,358.22 L458.12,358.76 L460.53,359.26 L462.94,359.72 L465.34,360.16 L467.75,360.58 L470.15,360.97 L472.56,361.34 L474.96,361.68 L477.37,362.01 L479.77,362.33 L482.18,362.63 L484.58,362.92 L486.99,363.20 L489.40,363.48 L491.80,363.75 L494.21,364.02" stroke="#C52C4C" class="cv"/>
<circle cx="328.99" cy="253.73" r="2.7" stroke="#C52C4C" class="mk"/>
<circle cx="365.07" cy="298.61" r="2.7" stroke="#C52C4C" class="mk"/>
<circle cx="422.04" cy="346.06" r="2.7" stroke="#C52C4C" class="mk"/>
<circle cx="494.21" cy="364.02" r="2.7" stroke="#C52C4C" class="mk"/>
<path d="M328.99,393.78 L330.20,393.19 L331.40,392.61 L332.60,392.02 L333.80,391.42 L335.01,390.83 L336.21,390.22 L337.41,389.61 L338.61,389.00 L339.82,388.37 L341.02,387.74 L342.22,387.10 L343.43,386.44 L344.63,385.78 L345.83,385.10 L347.03,384.40 L348.24,383.70 L349.44,382.97 L350.64,382.23 L351.84,381.47 L353.05,380.69 L354.25,379.89 L355.45,379.06 L356.66,378.22 L357.86,377.35 L359.06,376.46 L360.26,375.54 L361.47,374.60 L362.67,373.63 L363.87,372.63 L365.07,371.60 L366.97,369.91 L368.87,368.16 L370.77,366.33 L372.67,364.44 L374.57,362.49 L376.47,360.49 L378.37,358.43 L380.27,356.33 L382.16,354.18 L384.06,352.00 L385.96,349.77 L387.86,347.52 L389.76,345.24 L391.66,342.94 L393.56,340.62 L395.46,338.28 L397.36,335.93 L399.26,333.58 L401.15,331.22 L403.05,328.87 L404.95,326.52 L406.85,324.18 L408.75,321.85 L410.65,319.54 L412.55,317.25 L414.45,314.99 L416.35,312.76 L418.25,310.56 L420.14,308.40 L422.04,306.28 L424.45,303.66 L426.85,301.12 L429.26,298.64 L431.67,296.23 L434.07,293.88 L436.48,291.59 L438.88,289.37 L441.29,287.20 L443.69,285.08 L446.10,283.02 L448.50,281.01 L450.91,279.04 L453.31,277.12 L455.72,275.24 L458.12,273.39 L460.53,271.59 L462.94,269.82 L465.34,268.08 L467.75,266.37 L470.15,264.69 L472.56,263.04 L474.96,261.40 L477.37,259.79 L479.77,258.19 L482.18,256.61 L484.58,255.04 L486.99,253.48 L489.40,251.92 L491.80,250.38 L494.21,248.83" stroke="#2283CC" class="cv"/>
<circle cx="328.99" cy="393.78" r="2.7" stroke="#2283CC" class="mk"/>
<circle cx="365.07" cy="371.60" r="2.7" stroke="#2283CC" class="mk"/>
<circle cx="422.04" cy="306.28" r="2.7" stroke="#2283CC" class="mk"/>
<circle cx="494.21" cy="248.83" r="2.7" stroke="#2283CC" class="mk"/>
<line x1="469.3" y1="399.3" x2="494.4" y2="399.3" stroke="#C52C4C" class="cv"/>
<circle cx="481.7" cy="399.3" r="2.7" stroke="#C52C4C" class="mk"/>
<line x1="469.3" y1="409.3" x2="494.4" y2="409.3" stroke="#2283CC" class="cv"/>
<circle cx="481.7" cy="409.3" r="2.7" stroke="#2283CC" class="mk"/>
<g class="gt" style="fill:#111;stroke:#111;stroke-width:0" transform="translate(17.80,146.30) rotate(-90)"><text x="-0.32" y="0.00" style="font-size:17px" textLength="17.87" lengthAdjust="spacingAndGlyphs">Nu</text><text x="19.73" y="2.40" style="font-size:11.5px;font-style:italic" textLength="4.54" lengthAdjust="spacingAndGlyphs">p</text><text x="25.80" y="4.00" style="font-size:23px" textLength="6.50" lengthAdjust="spacingAndGlyphs">/</text><text x="34.55" y="0.00" style="font-size:17px">(</text><text x="39.74" y="0.00" style="font-size:17px;font-style:italic" textLength="10.37" lengthAdjust="spacingAndGlyphs">φ</text><text x="50.79" y="2.50" style="font-size:11.5px;font-style:italic;font-family:"DejaVu Serif",serif" textLength="5.66" lengthAdjust="spacingAndGlyphs">ϑ</text><text x="60.36" y="0.00" style="font-size:17px" textLength="18.49" lengthAdjust="spacingAndGlyphs">Nu</text><text x="80.46" y="2.50" style="font-size:11.5px;font-style:italic" textLength="4.96" lengthAdjust="spacingAndGlyphs">c</text><text x="85.25" y="0.00" style="font-size:17px">)</text></g>
<g class="gt" style="fill:#111;stroke:#111;stroke-width:0" transform="translate(17.80,370.70) rotate(-90)"><text x="-0.32" y="0.00" style="font-size:17px" textLength="17.87" lengthAdjust="spacingAndGlyphs">Nu</text><text x="19.73" y="2.40" style="font-size:11.5px;font-style:italic" textLength="4.54" lengthAdjust="spacingAndGlyphs">p</text><text x="25.80" y="4.00" style="font-size:23px" textLength="6.50" lengthAdjust="spacingAndGlyphs">/</text><text x="34.55" y="0.00" style="font-size:17px">(</text><text x="39.74" y="0.00" style="font-size:17px;font-style:italic" textLength="10.37" lengthAdjust="spacingAndGlyphs">φ</text><text x="50.79" y="2.50" style="font-size:11.5px;font-style:italic;font-family:"DejaVu Serif",serif" textLength="5.66" lengthAdjust="spacingAndGlyphs">ϑ</text><text x="60.36" y="0.00" style="font-size:17px" textLength="18.49" lengthAdjust="spacingAndGlyphs">Nu</text><text x="80.46" y="2.50" style="font-size:11.5px;font-style:italic" textLength="4.96" lengthAdjust="spacingAndGlyphs">c</text><text x="85.25" y="0.00" style="font-size:17px">)</text></g>
<g class="gt" style="fill:#111;stroke:#111;stroke-width:0" transform="translate(290.20,170.90) rotate(-90)"><text x="-0.02" y="0.00" style="font-size:17px" textLength="26.10" lengthAdjust="spacingAndGlyphs">max</text><text x="28.21" y="0.00" style="font-size:17px" textLength="13.68" lengthAdjust="spacingAndGlyphs">{</text><text x="40.71" y="0.00" style="font-size:17px" textLength="16.42" lengthAdjust="spacingAndGlyphs">Nu</text><text x="58.65" y="2.40" style="font-size:11.5px;font-style:italic" textLength="4.73" lengthAdjust="spacingAndGlyphs">p</text><text x="63.73" y="0.00" style="font-size:17px" textLength="8.85" lengthAdjust="spacingAndGlyphs">}</text><text x="75.80" y="3.50" style="font-size:23px" textLength="7.00" lengthAdjust="spacingAndGlyphs">/</text><text x="83.25" y="0.00" style="font-size:17px">(</text><text x="89.24" y="0.00" style="font-size:17px;font-style:italic" textLength="10.37" lengthAdjust="spacingAndGlyphs">φ</text><text x="100.39" y="2.50" style="font-size:11.5px;font-style:italic;font-family:"DejaVu Serif",serif" textLength="5.66" lengthAdjust="spacingAndGlyphs">ϑ</text><text x="110.17" y="0.00" style="font-size:17px" textLength="18.39" lengthAdjust="spacingAndGlyphs">Nu</text><text x="130.42" y="2.50" style="font-size:11.5px;font-style:italic" textLength="4.08" lengthAdjust="spacingAndGlyphs">c</text><text x="135.65" y="0.00" style="font-size:17px">)</text></g>
<g class="gt" style="fill:#111;stroke:#111;stroke-width:0" transform="translate(290.50,396.20) rotate(-90)"><text x="-0.02" y="0.00" style="font-size:17px" textLength="26.10" lengthAdjust="spacingAndGlyphs">max</text><text x="28.21" y="0.00" style="font-size:17px" textLength="13.68" lengthAdjust="spacingAndGlyphs">{</text><text x="40.71" y="0.00" style="font-size:17px" textLength="16.42" lengthAdjust="spacingAndGlyphs">Nu</text><text x="58.65" y="2.40" style="font-size:11.5px;font-style:italic" textLength="4.73" lengthAdjust="spacingAndGlyphs">p</text><text x="63.73" y="0.00" style="font-size:17px" textLength="8.85" lengthAdjust="spacingAndGlyphs">}</text><text x="75.80" y="3.50" style="font-size:23px" textLength="7.00" lengthAdjust="spacingAndGlyphs">/</text><text x="83.25" y="0.00" style="font-size:17px">(</text><text x="89.24" y="0.00" style="font-size:17px;font-style:italic" textLength="10.37" lengthAdjust="spacingAndGlyphs">φ</text><text x="100.39" y="2.50" style="font-size:11.5px;font-style:italic;font-family:"DejaVu Serif",serif" textLength="5.66" lengthAdjust="spacingAndGlyphs">ϑ</text><text x="110.17" y="0.00" style="font-size:17px" textLength="18.39" lengthAdjust="spacingAndGlyphs">Nu</text><text x="130.42" y="2.50" style="font-size:11.5px;font-style:italic" textLength="4.08" lengthAdjust="spacingAndGlyphs">c</text><text x="135.65" y="0.00" style="font-size:17px">)</text></g>
<g class="gt" style="fill:#111;stroke:#111;stroke-width:0" transform="translate(541.70,119.20) rotate(-90)"><text x="-0.94" y="0.00" style="font-size:17px" textLength="14.24" lengthAdjust="spacingAndGlyphs">St</text><text x="14.96" y="2.60" style="font-size:11px" textLength="20.09" lengthAdjust="spacingAndGlyphs">max</text></g>
<g class="gt" style="fill:#111;stroke:#111;stroke-width:0" transform="translate(536.20,337.40) rotate(-90)"><text x="-0.43" y="0.00" style="font-size:17px" textLength="18.08" lengthAdjust="spacingAndGlyphs">Nu</text><text x="19.16" y="2.20" style="font-size:11.5px;font-style:italic" textLength="4.96" lengthAdjust="spacingAndGlyphs">c</text></g>
<g class="gt" style="fill:#111;stroke:#111;stroke-width:0"><text x="145.67" y="219.00" style="font-size:17px" textLength="15.34" lengthAdjust="spacingAndGlyphs">St</text></g>
<g class="gt" style="fill:#111;stroke:#111;stroke-width:0"><text x="145.71" y="443.70" style="font-size:17px" textLength="14.79" lengthAdjust="spacingAndGlyphs">St</text></g>
<g class="gt" style="fill:#111;stroke:#111;stroke-width:0"><text x="387.46" y="218.80" style="font-size:17px" textLength="14.24" lengthAdjust="spacingAndGlyphs">St</text><text x="402.72" y="221.30" style="font-size:11.5px;font-style:italic;font-family:"DejaVu Serif",serif" textLength="6.68" lengthAdjust="spacingAndGlyphs">ϑ</text><text x="410.30" y="223.20" style="font-size:24px" textLength="5.80" lengthAdjust="spacingAndGlyphs">/</text><text x="417.08" y="218.80" style="font-size:17px" textLength="13.91" lengthAdjust="spacingAndGlyphs">St</text></g>
<g class="gt" style="fill:#111;stroke:#111;stroke-width:0"><text x="398.44" y="443.40" style="font-size:17px" textLength="17.82" lengthAdjust="spacingAndGlyphs">Re</text><text x="416.59" y="446.30" style="font-size:11.5px" textLength="5.78" lengthAdjust="spacingAndGlyphs">λ</text></g>
<text x="57.9" y="32.6" class="pl">(a)</text>
<text x="330.6" y="32.6" class="pl">(b)</text>
<text x="57.9" y="257.9" class="pl">(c)</text>
<text x="335.8" y="257.2" class="pl">(d)</text>
<g class="gt" style="fill:#111;stroke:#111;stroke-width:0.1"><text x="154.96" y="21.50" style="font-size:11px" textLength="10.52" lengthAdjust="spacingAndGlyphs">St</text><text x="165.38" y="23.50" style="font-size:8.5px;font-style:italic;font-family:"DejaVu Serif",serif" textLength="5.89" lengthAdjust="spacingAndGlyphs">ϑ</text><text x="172.80" y="23.80" style="font-size:16px" textLength="4.80" lengthAdjust="spacingAndGlyphs">/</text><text x="177.16" y="21.50" style="font-size:11px" textLength="10.52" lengthAdjust="spacingAndGlyphs">St</text><text x="191.14" y="22.40" style="font-size:11px" textLength="9.70" lengthAdjust="spacingAndGlyphs">=</text><text x="203.03" y="21.50" style="font-size:11px" textLength="15.45" lengthAdjust="spacingAndGlyphs">0.5</text></g>
<g class="gt" style="fill:#111;stroke:#111;stroke-width:0.1"><text x="202.58" y="31.43" style="font-size:11px" textLength="15.90" lengthAdjust="spacingAndGlyphs">1.0</text></g>
<g class="gt" style="fill:#111;stroke:#111;stroke-width:0.1"><text x="203.16" y="41.36" style="font-size:11px" textLength="15.30" lengthAdjust="spacingAndGlyphs">2.0</text></g>
<g class="gt" style="fill:#111;stroke:#111;stroke-width:0.1"><text x="203.11" y="51.29" style="font-size:11px" textLength="15.36" lengthAdjust="spacingAndGlyphs">3.0</text></g>
<g class="gt" style="fill:#111;stroke:#111;stroke-width:0.1"><text x="203.47" y="61.22" style="font-size:11px" textLength="14.99" lengthAdjust="spacingAndGlyphs">4.0</text></g>
<g class="gt" style="fill:#111;stroke:#111;stroke-width:0.1"><text x="197.97" y="71.15" style="font-size:11px" textLength="20.49" lengthAdjust="spacingAndGlyphs">4.43</text></g>
<g class="gt" style="fill:#111;stroke:#111;stroke-width:0.1"><text x="167.85" y="245.00" style="font-size:11px" textLength="13.47" lengthAdjust="spacingAndGlyphs">Re</text><text x="181.14" y="247.30" style="font-size:7.5px" textLength="4.82" lengthAdjust="spacingAndGlyphs">λ</text><text x="188.62" y="244.70" style="font-size:11px" textLength="9.94" lengthAdjust="spacingAndGlyphs">=</text><text x="201.24" y="245.00" style="font-size:11px" textLength="11.80" lengthAdjust="spacingAndGlyphs">37</text></g>
<g class="gt" style="fill:#111;stroke:#111;stroke-width:0.1"><text x="201.12" y="254.70" style="font-size:11px" textLength="11.73" lengthAdjust="spacingAndGlyphs">56</text></g>
<g class="gt" style="fill:#111;stroke:#111;stroke-width:0.1"><text x="201.36" y="264.40" style="font-size:11px" textLength="11.48" lengthAdjust="spacingAndGlyphs">86</text></g>
<g class="gt" style="fill:#111;stroke:#111;stroke-width:0.1"><text x="196.56" y="274.10" style="font-size:11px" textLength="16.11" lengthAdjust="spacingAndGlyphs">124</text></g>
<g class="gt" style="fill:#C52C4C;stroke:#C52C4C;stroke-width:0.15"><text x="354.05" y="162.10" style="font-size:12px" textLength="20.19" lengthAdjust="spacingAndGlyphs">max</text><text x="376.46" y="162.10" style="font-size:12px" textLength="5.47" lengthAdjust="spacingAndGlyphs">{</text><text x="381.46" y="162.10" style="font-size:12px" textLength="14.55" lengthAdjust="spacingAndGlyphs">Nu</text><text x="396.95" y="164.10" style="font-size:8.5px;font-style:italic" textLength="4.73" lengthAdjust="spacingAndGlyphs">p</text><text x="401.76" y="162.10" style="font-size:12px" textLength="5.47" lengthAdjust="spacingAndGlyphs">}</text><text x="409.80" y="165.10" style="font-size:17.5px" textLength="5.00" lengthAdjust="spacingAndGlyphs">/</text><text x="415.40" y="162.10" style="font-size:12px" textLength="3.76" lengthAdjust="spacingAndGlyphs">(</text><text x="419.92" y="162.10" style="font-size:12px;font-style:italic" textLength="7.14" lengthAdjust="spacingAndGlyphs">φ</text><text x="426.60" y="163.70" style="font-size:8.5px;font-style:italic;font-family:"DejaVu Serif",serif" textLength="5.55" lengthAdjust="spacingAndGlyphs">ϑ</text><text x="434.87" y="162.10" style="font-size:12px" textLength="13.92" lengthAdjust="spacingAndGlyphs">Nu</text><text x="449.26" y="163.90" style="font-size:8.5px;font-style:italic" textLength="3.53" lengthAdjust="spacingAndGlyphs">c</text><text x="454.04" y="162.10" style="font-size:12px" textLength="3.76" lengthAdjust="spacingAndGlyphs">)</text></g>
<g class="gt" style="fill:#2283CC;stroke:#2283CC;stroke-width:0.15"><text x="429.38" y="176.00" style="font-size:11.5px" textLength="10.19" lengthAdjust="spacingAndGlyphs">St</text><text x="440.70" y="178.00" style="font-size:9px" textLength="16.21" lengthAdjust="spacingAndGlyphs">max</text></g>
<g class="gt" style="fill:#C52C4C;stroke:#C52C4C;stroke-width:0.15"><text x="350.85" y="402.80" style="font-size:12px" textLength="20.19" lengthAdjust="spacingAndGlyphs">max</text><text x="373.26" y="402.80" style="font-size:12px" textLength="5.47" lengthAdjust="spacingAndGlyphs">{</text><text x="378.26" y="402.80" style="font-size:12px" textLength="14.55" lengthAdjust="spacingAndGlyphs">Nu</text><text x="393.75" y="404.80" style="font-size:8.5px;font-style:italic" textLength="4.73" lengthAdjust="spacingAndGlyphs">p</text><text x="398.56" y="402.80" style="font-size:12px" textLength="5.47" lengthAdjust="spacingAndGlyphs">}</text><text x="406.60" y="405.80" style="font-size:17.5px" textLength="5.00" lengthAdjust="spacingAndGlyphs">/</text><text x="412.20" y="402.80" style="font-size:12px" textLength="3.76" lengthAdjust="spacingAndGlyphs">(</text><text x="416.72" y="402.80" style="font-size:12px;font-style:italic" textLength="7.14" lengthAdjust="spacingAndGlyphs">φ</text><text x="423.40" y="404.40" style="font-size:8.5px;font-style:italic;font-family:"DejaVu Serif",serif" textLength="5.55" lengthAdjust="spacingAndGlyphs">ϑ</text><text x="431.67" y="402.80" style="font-size:12px" textLength="13.92" lengthAdjust="spacingAndGlyphs">Nu</text><text x="446.06" y="404.60" style="font-size:8.5px;font-style:italic" textLength="3.53" lengthAdjust="spacingAndGlyphs">c</text><text x="450.84" y="402.80" style="font-size:12px" textLength="3.76" lengthAdjust="spacingAndGlyphs">)</text></g>
<g class="gt" style="fill:#2283CC;stroke:#2283CC;stroke-width:0.15"><text x="436.08" y="412.70" style="font-size:12px" textLength="13.61" lengthAdjust="spacingAndGlyphs">Nu</text><text x="450.11" y="414.50" style="font-size:8.5px;font-style:italic" textLength="4.19" lengthAdjust="spacingAndGlyphs">c</text></g>
</svg></body></html>
